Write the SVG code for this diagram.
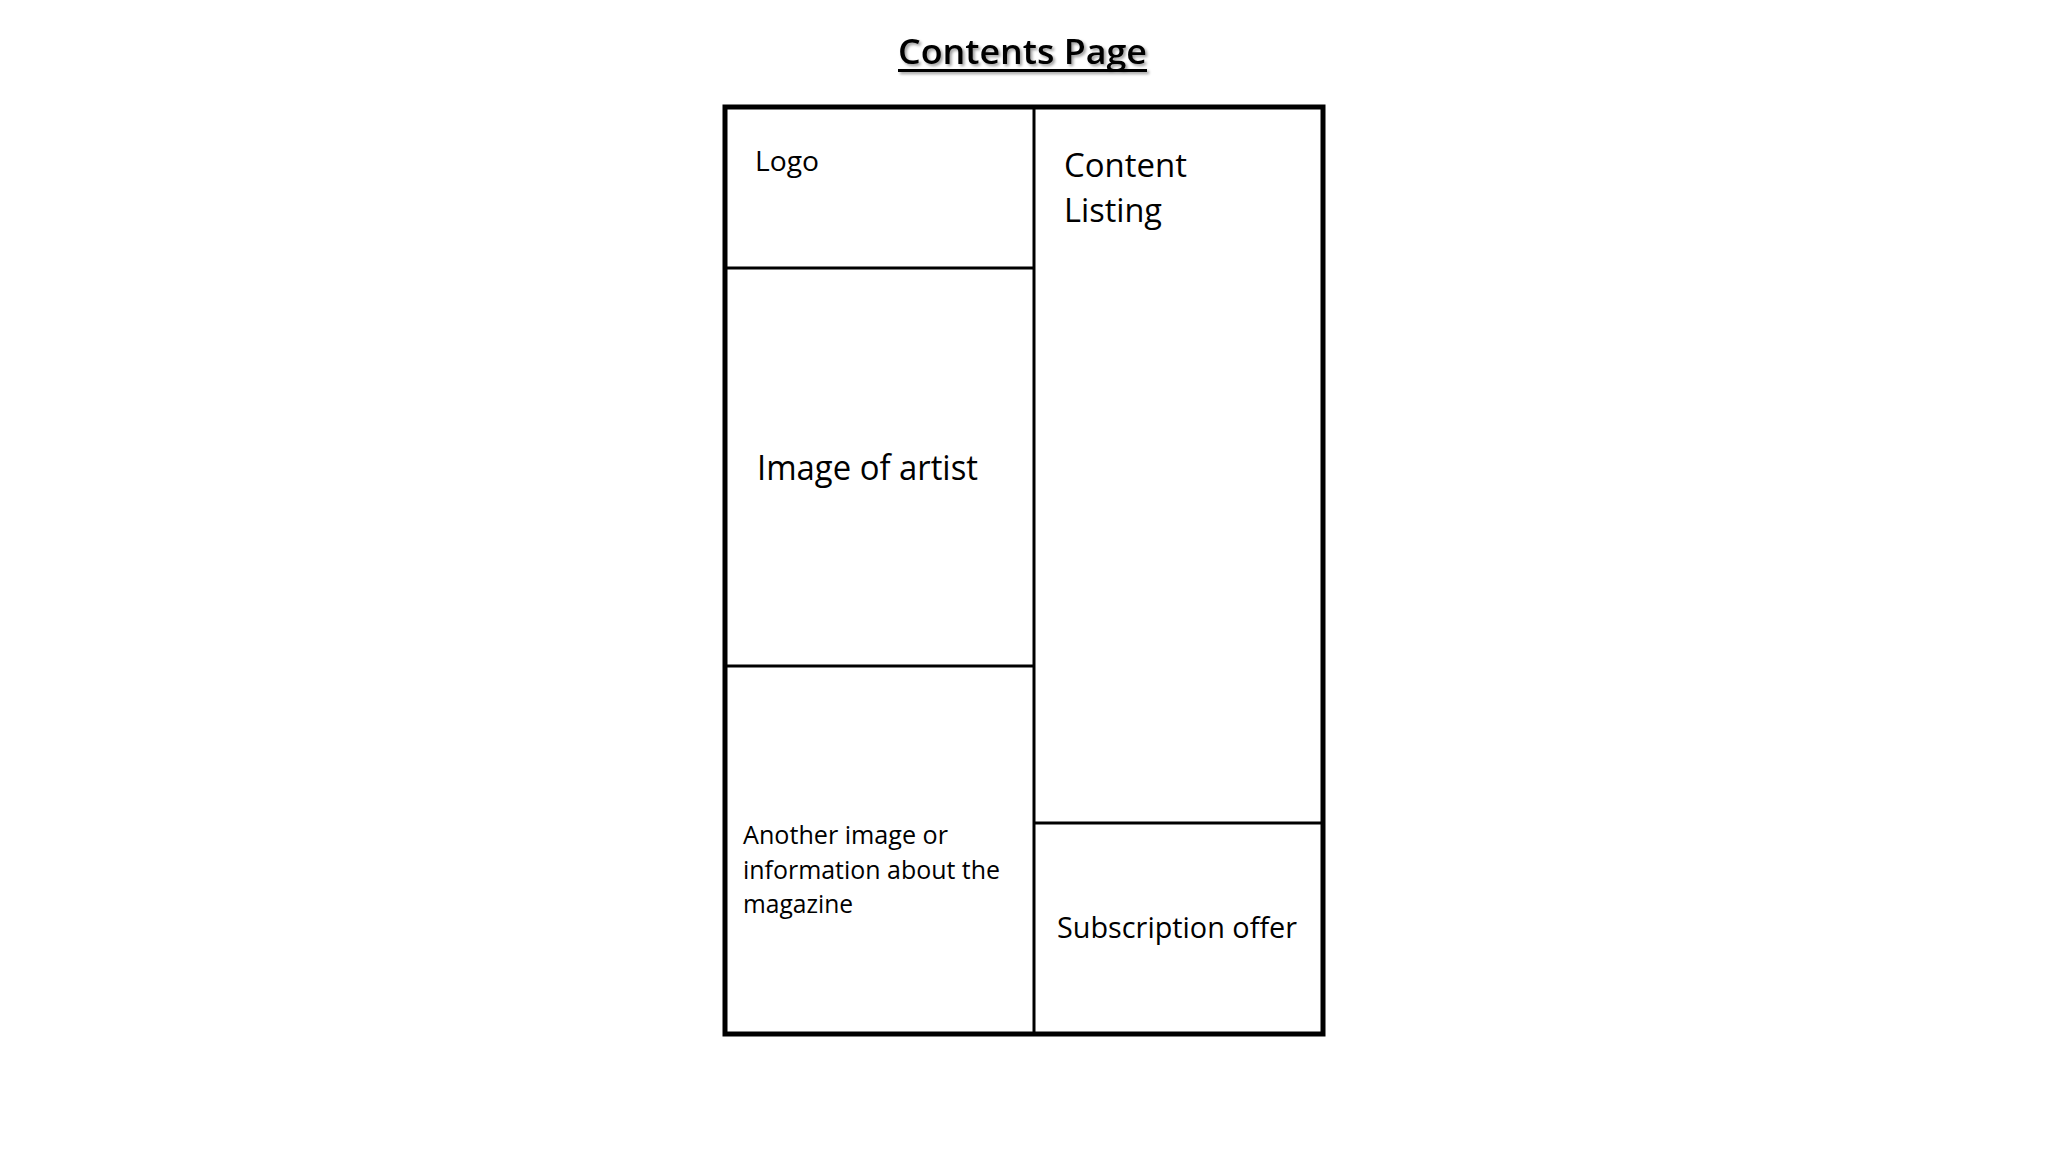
<svg xmlns="http://www.w3.org/2000/svg" width="2048" height="1152" viewBox="0 0 2048 1152">
<defs>
<filter id="shadow" x="-10%" y="-20%" width="120%" height="140%">
<feGaussianBlur in="SourceAlpha" stdDeviation="1.5"/>
<feOffset dx="2" dy="2" result="b"/>
<feComponentTransfer><feFuncA type="linear" slope="0.4"/></feComponentTransfer>
<feMerge><feMergeNode/><feMergeNode in="SourceGraphic"/></feMerge>
</filter>
</defs>
<style>
.t{font-family:"Open Sans","Liberation Sans",sans-serif;fill:#000;}
.line{stroke:#000;stroke-width:3;fill:none;}
.outer{stroke:#000;stroke-width:5;fill:none;}
</style>
<rect width="2048" height="1152" fill="#fff"/>
<g id="title" filter="url(#shadow)">
<text class="t" x="898" y="64" font-size="34" font-weight="600" textLength="249" lengthAdjust="spacingAndGlyphs">Contents Page</text>
<rect x="898" y="69" width="249" height="3" fill="#000"/>
</g>
<g id="frame">
<rect class="outer" x="725" y="107" width="598" height="927"/>
</g>
<g id="connectors">
<line class="line" x1="1034" y1="107" x2="1034" y2="1034"/>
<line class="line" x1="725" y1="268" x2="1034" y2="268"/>
<line class="line" x1="725" y1="666" x2="1034" y2="666"/>
<line class="line" x1="1034" y1="823" x2="1323" y2="823"/>
</g>
<g id="logo">
<text class="t" x="755" y="171" font-size="27" textLength="64" lengthAdjust="spacingAndGlyphs">Logo</text>
</g>
<g id="content-listing">
<text class="t" x="1064" y="177" font-size="33" textLength="123" lengthAdjust="spacingAndGlyphs">Content</text>
<text class="t" x="1064" y="222" font-size="33" textLength="98" lengthAdjust="spacingAndGlyphs">Listing</text>
</g>
<g id="image-of-artist">
<text class="t" x="757" y="480" font-size="34" textLength="221" lengthAdjust="spacingAndGlyphs">Image of artist</text>
</g>
<g id="another-image">
<text class="t" x="743" y="844" font-size="25" textLength="205" lengthAdjust="spacingAndGlyphs">Another image or</text>
<text class="t" x="743" y="879" font-size="25" textLength="257" lengthAdjust="spacingAndGlyphs">information about the</text>
<text class="t" x="743" y="913" font-size="25" textLength="110" lengthAdjust="spacingAndGlyphs">magazine</text>
</g>
<g id="subscription">
<text class="t" x="1057" y="938" font-size="28.5" textLength="240" lengthAdjust="spacingAndGlyphs">Subscription offer</text>
</g>
</svg>
